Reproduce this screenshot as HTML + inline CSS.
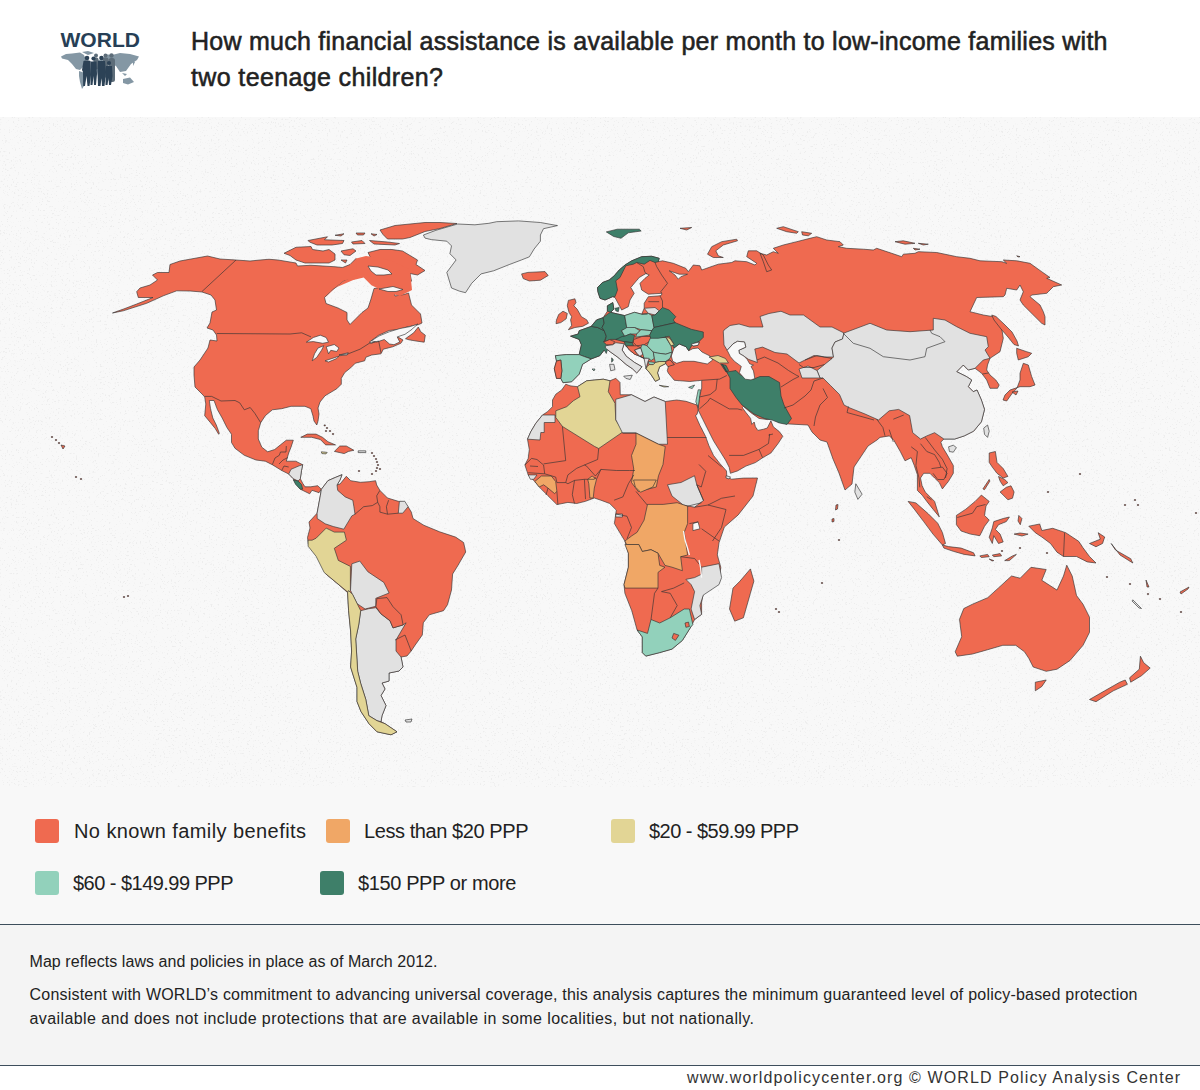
<!DOCTYPE html>
<html><head><meta charset="utf-8">
<style>
html,body{margin:0;padding:0;}
body{width:1200px;height:1090px;overflow:hidden;position:relative;background:#fff;font-family:"Liberation Sans",sans-serif;color:#222;}
#hdr{position:absolute;left:0;top:0;width:1200px;height:117px;background:#fff;}
#mapbg{position:absolute;left:0;top:117px;width:1200px;height:807px;background:#f8f8f8;}
#foot{position:absolute;left:0;top:924px;width:1200px;height:140px;background:#f4f4f4;border-top:1px solid #3d4e5c;border-bottom:1px solid #3d4e5c;}
.title{position:absolute;left:191px;font-weight:bold;font-size:24px;color:#222;white-space:nowrap;}
.leg{position:absolute;font-size:19px;color:#222;white-space:nowrap;}
.sq{position:absolute;width:24px;height:24px;border-radius:3px;}
.note{position:absolute;left:30px;font-size:15px;color:#222;white-space:nowrap;}
#svgmap{position:absolute;left:0;top:0;}
</style></head><body>
<div id="hdr"></div>
<div id="mapbg"></div>
<svg style="position:absolute;left:0;top:117px" width="1200" height="670"><filter id="spk" x="0" y="0" width="100%" height="100%"><feTurbulence type="fractalNoise" baseFrequency="0.55" numOctaves="2" seed="7" result="n"/><feColorMatrix in="n" type="matrix" values="0 0 0 0 0.6  0 0 0 0 0.6  0 0 0 0 0.6  9 0 0 0 -5.6"/></filter><rect width="1200" height="670" filter="url(#spk)" opacity="0.22"/></svg>
<div id="foot"></div>

<svg id="svgmap" width="1200" height="1090" viewBox="0 0 1200 1090">
<g stroke="#333" stroke-width="0.65" stroke-linejoin="round">
<polygon fill="#ef6a50" points="112.5,313 125,308.5 136.7,304 148,299.5 153,297.5 138.3,297.5 136.7,291.7 140,288 150,285 157.5,280 152.5,275 157.5,272.5 169,272.5 170,264.5 180,261 207.5,256 220,259 236,260 250,261 260,260 269,259.25 278,260 296,263 297.5,266 311,265.25 323,266 335,266.75 342.5,267.5 350,264.5 356,258.5 359,263 363.5,266 366.5,269 363.5,272 357.5,278 344,281 330.5,291.5 324.5,297.5 326,303.5 338,308 347,312.5 347,320 350,324.5 356,318.5 362,312.5 368,308 371,299 374,288.5 384.5,287 393.5,290 395,296 404,294.5 408.5,293 411.5,305 420.5,314 422,323 418.3,324.7 406.7,327 399.7,329.3 389.2,330.5 378.7,335.2 369.3,342.2 371.7,343.3 381,338.7 391.5,335.2 398,337 403,340 400.8,343.3 392.7,346.8 383.3,349.2 381,353.8 371.7,355 365.8,357.3 364.7,360.8 355.3,363.2 350.7,367.8 344.8,372.5 341.3,378.3 341.3,384.2 336.7,388.8 325,395.8 320,402 318,408 319,414 318,421 316.8,425 314,421 313,416 310.8,408.7 305,406.3 291,406.3 281.7,408.7 272.3,409.8 265.3,415.7 260.7,422.7 258.3,430.8 258.3,439 261.8,447.2 267.7,451.8 274.7,449.5 280.5,444.8 286.3,440.2 293.3,440.2 291,447.2 288.7,453 286.3,461.2 295.7,461.2 302.7,464.7 301.5,470.5 300.3,478.7 302.7,483.3 305,486.8 310.8,486.8 317.8,485.7 321.3,489.2 319,492.7 312,490.3 309.7,493.8 305,491.5 300.3,489.2 295.7,483.3 293.3,478.7 288.7,474 281.7,470.5 272.3,464.7 265.3,461.2 256,460 244.3,455.3 235,448.3 231.5,442.5 231.5,434.3 226.8,427.3 222.2,418 217.5,409.8 214,400.5 209.3,400.5 210.5,408.7 212.8,418 216.3,425 219.3,433.2 218.7,434.3 215.2,428.5 210.5,422.7 204.7,415.7 205.8,404 204.7,397 203,395 195,387 194,375 194,367 200,360 208,348 210,340 217,341 216.5,335 213,330 207,328 210,323 212,312 216.5,310 215,300 211,295 202,292 190,291 176.7,290.8 163.3,295.8 146.7,303.3 123.3,310.8"/>
<polygon fill="#f8f8f8" points="306.3,342.2 313.3,337.5 320.3,335.2 326.2,337.5 328.5,342.2 322.7,343.3 313.3,341.6"/>
<polygon fill="#f8f8f8" points="312.2,360.8 314.5,353.8 318,348 323.8,345.7 321.5,350.3 316.8,357.3"/>
<polygon fill="#f8f8f8" points="326.2,346.8 334.3,344.5 339,348 336.7,351.5 330.8,350.3 328.5,353.8"/>
<polygon fill="#f8f8f8" points="325,360.8 332,358.5 339,356.2 336.7,358.5 328.5,362"/>
<polygon fill="#f8f8f8" points="339,355 348.3,352.7 347.2,355 340.2,355.6"/>
<polygon fill="#f8f8f8" points="371.4,340.8 379,336 389.5,331.7 400,328.5 410.2,326.6 417.9,324 411,330 405,334.3 397.2,336.9 399.8,342 394,344.7 389.5,344 384.3,339.5 376.6,342.1"/>
<polygon fill="#ef6a50" points="405.5,338.7 413.7,332.8 418.3,327 420.7,331.7 425.3,335.2 424.2,342.2 416,341 409,339.8"/>
<polygon fill="#ef6a50" points="380,230 395,225.5 410,224 425,222.5 440,222.5 457,223.5 440,228.5 425,231.5 410,237.5 402.5,239 387.5,239 383,234.5"/>
<polygon fill="#ef6a50" points="369.5,240.5 387.5,242 399.5,243.5 395,245 374,244"/>
<polygon fill="#ef6a50" points="351.5,242 362,240.5 365,243.5 353,244"/>
<polygon fill="#ef6a50" points="356,233 365,233 363.5,235 357.5,235"/>
<polygon fill="#ef6a50" points="371,233.75 377,234.5 374,236"/>
<polygon fill="#ef6a50" points="335,235.25 344,233.75 341,236"/>
<polygon fill="#ef6a50" points="308,240.5 327.5,236.75 324.5,239.75 344,240.5 342.5,243.5 332,245 317,245 309.5,242"/>
<polygon fill="#ef6a50" points="284,253.25 296,247.25 311,246.5 312.5,249.5 323,251 329,249.5 335,254 335,260 329,263 320,263 305,263 296,260 290,255.5"/>
<polygon fill="#ef6a50" points="341,251 353,248.75 356,251 350,255.5 344,254.75"/>
<polygon fill="#ef6a50" points="341,260 347,260 345.5,263"/>
<polygon fill="#ef6a50" points="368,252.5 380,249.5 392,249.5 402.5,251 410,255.5 417.5,260 416,264.5 425,270.5 417.5,275 410,273.5 411.5,281 407,285.5 401,281 392,281 383,278 381.5,275 389,272 392,266 386,261.5 377,260 371,258.5"/>
<polygon fill="#ef6a50" stroke="none" points="356,258.5 366,256 380,258 395,262 410,270 412,290 400,296 385,292 376.6,287.8 371.4,285.2 363.7,277.5 353.3,280 335.2,287.8 325,298 330.5,291.5 344,281 357,275"/>
<polygon fill="#f8f8f8" points="368,266 378,267 388,270 392,274 384,275 376,275 371,271"/>
<polygon fill="#f8f8f8" points="379,289 393,286.5 403,289.5 396,291.5 388,291.5"/>
<polygon fill="#ef6a50" points="300.8,437.3 307.3,434.1 316,434.1 322.5,437.3 327.9,441.7 335.5,444.9 325.7,444.9 320.3,439.5 311.7,437.3"/>
<polygon fill="#ef6a50" points="334.4,451.4 339.8,446 346.3,446 353.9,450.3 348.5,451.4 344.2,453.6"/>
<polygon fill="#e2d595" points="321.3,451.8 327.2,452.4 326,453.9 321.9,453.6"/>
<polygon fill="#e1e1e1" points="358.2,450.8 365.8,450.8 365.8,452.6 358.2,452.6"/>
<polygon fill="#e1e1e1" points="288.7,474 291,469.3 299.2,465.8 302.7,464.7 301.5,470.5 300.3,478.7 298,481 293.3,478.7"/>
<polygon fill="#3e7f69" points="293.3,479.8 298,481 301.5,484.5 302.7,489.2 300.3,489.2 295.7,484.5"/>
<polygon fill="#e1e1e1" points="423.4,235 435.9,230.3 457.7,224 474.9,224.8 488.9,223.3 496.7,221.7 518.5,220.9 540.4,222.5 557.5,225.6 543.5,228.7 540.4,235 540.4,241.2 534.1,249 529.4,256.8 521.6,259.9 509.2,264.6 493.6,270.8 481.1,273.9 471.7,283.3 465.5,292.7 459.3,291.1 451.5,288 446.8,272.4 456.1,259.9 449.9,253.7 451.5,245.9 446.8,241.2 431.2,239.6 425,238.1"/>
<polygon fill="#ef6a50" points="521.6,273.9 527.9,272.4 545,271.6 548.2,275.5 540.4,280.2 529.4,281 523.2,278.6"/>
<polygon fill="#ef6a50" points="324.09999999999997,424.9 325.3,424.9 325.3,425.9 324.09999999999997,425.9"/>
<polygon fill="#ef6a50" points="326.4,427.5 327.6,427.5 327.6,428.5 326.4,428.5"/>
<polygon fill="#ef6a50" points="329.4,430.5 330.6,430.5 330.6,431.5 329.4,431.5"/>
<polygon fill="#ef6a50" points="332.4,433.5 333.6,433.5 333.6,434.5 332.4,434.5"/>
<polygon fill="#ef6a50" points="325.4,430.5 326.6,430.5 326.6,431.5 325.4,431.5"/>
<polygon fill="#ef6a50" points="371.4,452.5 372.6,452.5 372.6,453.5 371.4,453.5"/>
<polygon fill="#ef6a50" points="373.4,455.5 374.6,455.5 374.6,456.5 373.4,456.5"/>
<polygon fill="#ef6a50" points="375.4,458.5 376.6,458.5 376.6,459.5 375.4,459.5"/>
<polygon fill="#ef6a50" points="376.4,461.5 377.6,461.5 377.6,462.5 376.4,462.5"/>
<polygon fill="#ef6a50" points="377.4,464.5 378.6,464.5 378.6,465.5 377.4,465.5"/>
<polygon fill="#ef6a50" points="376.4,467.5 377.6,467.5 377.6,468.5 376.4,468.5"/>
<polygon fill="#ef6a50" points="375.4,470.5 376.6,470.5 376.6,471.5 375.4,471.5"/>
<polygon fill="#ef6a50" points="379.4,468.5 380.6,468.5 380.6,469.5 379.4,469.5"/>
<polygon fill="#ef6a50" points="371.4,473.5 372.6,473.5 372.6,474.5 371.4,474.5"/>
<polygon fill="#ef6a50" points="358.4,470.5 359.6,470.5 359.6,471.5 358.4,471.5"/>
<polygon fill="#ef6a50" points="51.4,436.5 52.6,436.5 52.6,437.5 51.4,437.5"/>
<polygon fill="#ef6a50" points="55.4,439.5 56.6,439.5 56.6,440.5 55.4,440.5"/>
<polygon fill="#ef6a50" points="58.4,442.5 59.6,442.5 59.6,443.5 58.4,443.5"/>
<polygon fill="#ef6a50" points="75.4,476.5 76.6,476.5 76.6,477.5 75.4,477.5"/>
<polygon fill="#ef6a50" points="80.4,478.5 81.6,478.5 81.6,479.5 80.4,479.5"/>
<polygon fill="#ef6a50" points="123.4,596.5 124.6,596.5 124.6,597.5 123.4,597.5"/>
<polygon fill="#ef6a50" points="127.4,595.5 128.6,595.5 128.6,596.5 127.4,596.5"/>
<polygon fill="#ef6a50" points="549.4,422.5 550.6,422.5 550.6,423.5 549.4,423.5"/>
<polygon fill="#ef6a50" points="546.4,424.5 547.6,424.5 547.6,425.5 546.4,425.5"/>
<polygon fill="#ef6a50" points="542.4,424.5 543.6,424.5 543.6,425.5 542.4,425.5"/>
<polygon fill="#ef6a50" points="538.4,423.5 539.6,423.5 539.6,424.5 538.4,424.5"/>
<polygon fill="#ef6a50" points="539.4,426.5 540.6,426.5 540.6,427.5 539.4,427.5"/>
<polygon fill="#ef6a50" points="775.4,608.5 776.6,608.5 776.6,609.5 775.4,609.5"/>
<polygon fill="#ef6a50" points="778.4,611.5 779.6,611.5 779.6,612.5 778.4,612.5"/>
<polygon fill="#ef6a50" points="821.4,582.5 822.6,582.5 822.6,583.5 821.4,583.5"/>
<polygon fill="#ef6a50" points="838.4,539.5 839.6,539.5 839.6,540.5 838.4,540.5"/>
<polygon fill="#ef6a50" points="1106.4,576.5 1107.6,576.5 1107.6,577.5 1106.4,577.5"/>
<polygon fill="#ef6a50" points="1129.4,583.5 1130.6,583.5 1130.6,584.5 1129.4,584.5"/>
<polygon fill="#ef6a50" points="1147.4,593.5 1148.6,593.5 1148.6,594.5 1147.4,594.5"/>
<polygon fill="#ef6a50" points="1159.4,598.5 1160.6,598.5 1160.6,599.5 1159.4,599.5"/>
<polygon fill="#ef6a50" points="1180.4,611.5 1181.6,611.5 1181.6,612.5 1180.4,612.5"/>
<polygon fill="#ef6a50" points="1195.4,512.5 1196.6,512.5 1196.6,513.5 1195.4,513.5"/>
<polygon fill="#ef6a50" points="1046.4,552.5 1047.6,552.5 1047.6,553.5 1046.4,553.5"/>
<polygon fill="#ef6a50" points="1001.4,550.5 1002.6,550.5 1002.6,551.5 1001.4,551.5"/>
<polygon fill="#ef6a50" points="1019.4,547.5 1020.6,547.5 1020.6,548.5 1019.4,548.5"/>
<polygon fill="#ef6a50" points="1124.4,504.5 1125.6,504.5 1125.6,505.5 1124.4,505.5"/>
<polygon fill="#ef6a50" points="1134.4,499.5 1135.6,499.5 1135.6,500.5 1134.4,500.5"/>
<polygon fill="#ef6a50" points="1137.4,504.5 1138.6,504.5 1138.6,505.5 1137.4,505.5"/>
<polygon fill="#ef6a50" points="1047.4,491.5 1048.6,491.5 1048.6,492.5 1047.4,492.5"/>
<polygon fill="#ef6a50" points="1079.4,473.5 1080.6,473.5 1080.6,474.5 1079.4,474.5"/>
<polygon fill="#ef6a50" points="836,505 838,504.5 837.5,509 835.5,510"/>
<polygon fill="#ef6a50" points="832,519 834,518.5 834,521.5 832,522"/>
<polygon fill="#ef6a50" points="61,445 65,446 63,449"/>
<polygon fill="#ef6a50" points="317.1,513.2 320.3,495.8 321.4,489.3 327.9,480.7 335.5,477.4 342,474.7 340,480 337,485 340,484 346.3,476.3 350.7,480.7 360.4,482.3 369.1,481.7 375.6,480.7 376.7,485 379.9,490.4 387.5,498 398.3,501.3 403.7,502.3 408.1,506.7 411.3,512.1 413,518.5 423.7,525.2 439.6,531.8 455.6,537.1 463.6,542.5 465.7,552 457.6,566 452.6,574 451.5,590 447.5,604.7 443.5,610.7 429.3,614.8 423.3,622.8 422.3,635 415.2,645 411.2,651 407,656 401,657 403,667 399,671 389,673 389,681 382,683 385,689 381,695.5 386,705.6 382,715.7 381,721.7 385,723.7 397,731.8 391,734.8 377,731.8 369,723.7 361,711.6 357,701.5 357,687.4 350.6,667 351.6,651 350.6,631 348.6,610.7 347.6,592.6 338.5,584.5 326.4,574.4 316.3,554.2 308.3,544 307.5,537.5 310,528 309,522"/>
<polygon fill="#e1e1e1" points="317.1,513.2 320.3,495.8 321.4,489.3 327.9,480.7 335.5,477.4 342,474.7 340,480 337,485 337.7,490.4 345.2,496.9 352.8,500.2 353.9,506.7 355,514.2 351.8,515.9 343.8,529.2 333.2,526.5 325.2,523.8 317.2,518.5"/>
<polygon fill="#e2d595" points="308.1,540.2 312.1,540.2 316.1,538.2 326.2,528.1 334.3,532.1 344.4,532.1 346.4,540.2 334.3,548.3 338.3,560.4 350.4,566.4 350.4,590.6 348.4,592.6 336.3,582.6 324.2,572.5 316.1,556.3 308.1,546.2"/>
<polygon fill="#e1e1e1" points="351.8,563.8 359.8,561.1 367.8,571.7 383.8,582.4 389.1,593 375.8,598.3 375.8,606.3 365.1,609 357.1,603.7 350.5,590.4"/>
<polygon fill="#e1e1e1" points="360.7,610.7 368.8,608.7 375.9,607.7 380.9,613.8 390,620.8 393,627.9 403.1,624.9 406.1,622.8 396,640 396,651 401,657 403,667 399,671 389,673 389,681 382,683 385,689 381,695.5 386,705.6 382,715.7 381,721.7 377,720.7 368.8,715.7 365.8,699.5 360.7,683.4 357.7,671.3 356.7,655 355.7,639 358.7,625"/>
<polygon fill="#ef6a50" points="376.9,598.6 387,597.6 393,606.7 401.1,614.8 403.1,624.9 393,627.9 390,620.8 380.9,613.8 375.9,606.7"/>
<polygon fill="#e2d595" points="348.6,590.5 352.7,594.6 360.7,610.7 358.7,625 355.7,639 356.7,655 357.7,671.3 360.7,683.4 365.8,699.5 368.8,715.7 377,720.7 385,723.7 397,731.8 391,734.8 377,731.8 369,723.7 361,711.6 357,701.5 357,687.4 350.6,667 351.6,651 350.6,631 348.6,610.7 347.6,592.6"/>
<polygon fill="#e1e1e1" points="399.4,501.3 404.8,501.3 408.1,506.7 402.7,513.2 398.3,513.2"/>
<polygon fill="#e1e1e1" points="405,720 412,719 411,722 406,722"/>
<polygon fill="#ef6a50" points="556.5,378.4 554.3,368.7 556.5,361.1 555.4,355.7 566.2,354.6 579.2,354.6 581.4,344.8 579.2,339.4 570.6,336.2 578.2,334 579.2,330.7 591.2,326.4 596.6,319.9 603.1,317.7 607.4,311.2 607.4,305.8 612.8,302.6 613.9,309.1 610.7,312.3 615,313.4 624.7,315.6 634.5,312.3 641.7,314.2 644.2,308.3 644.2,303.3 648.3,296.7 660,295.8 661.7,295 661.7,293.3 648.3,294.2 641.7,290 640,283.3 645,278.3 649.2,275 646,273.5 639.2,277.5 630.8,287.5 634.2,293.3 630,300 628.3,306.7 621.7,310 615,297.5 612.5,296.7 605,300 600,298.3 597.9,291.7 597.5,287.5 602.5,282.5 609.2,280 614.2,275.8 619.2,270 625,265 631.7,260.8 641.7,256.7 651.7,256.25 659.2,258.3 658.3,261.7 662.5,260.8 673.3,263.3 685.8,268.3 688.3,271.7 693.3,265 700,265.8 701.7,270 718.3,264.2 731.7,262.5 735,260.8 746.7,261.7 755,265 756.7,263.3 746.7,256.7 748.3,250.8 756.7,250.8 763.3,255 768.3,265 771.7,270 766.7,271.7 763.3,261.7 760,253.3 766.7,255 773.3,251.7 778.3,253.3 773.3,248.3 783.3,245 796.7,241.7 810,238.3 816.7,236.7 826.7,240 840,241.7 843.3,245 838.3,246.7 846.7,248.3 863.3,249.2 873.3,250 876.7,248.3 891.7,253.3 901.7,256.7 903.3,254.2 915,253.3 918.3,251.7 936.7,252.5 956.7,256.7 970,258.3 980,260.8 1001.7,261.7 1006.7,263.3 1003.3,260 1016.7,260.8 1030,263.3 1041.7,271.7 1050,277.5 1046.7,278.3 1061.7,285 1053.3,286.7 1048.3,291.7 1046.7,293.3 1031.7,295 1030,296.7 1040,305 1043.3,311.7 1045,316.7 1045,325 1041.7,323.3 1023.3,305 1020,300 1023.3,291.7 1020,285 1016.7,290 1006.7,288.3 1005,295 1003.3,296.7 976.7,297.5 970,311.7 983.3,315 993.3,316.7 1001.7,328.3 1003.3,338.3 1000,351.7 990,358.3 987.5,365 986.7,370 990,375 995.8,380 999.2,385 997.5,388.3 990,388.3 986.7,380 981.7,373.3 975,368.3 968.3,370 963.3,365 956.7,371.7 966.7,376.7 971.7,380 968.3,386.7 973.3,391.7 977,390 981.4,400 984.5,409.4 981.4,421.8 973.6,431.2 964.2,435.9 954.8,439 943.9,439 940.8,442.1 942.4,446.8 947.1,454.6 953.3,465.5 953.3,473.3 948.6,481.1 942.4,488.9 939.3,482.6 934.6,478 929.9,473.3 923.7,473.3 920.5,478 922.1,485.8 925.2,492 929.9,496.7 934.6,501.4 939.3,516.9 933,509.2 926.8,501.4 922.1,495.1 917.4,490.4 917.4,474.8 914.3,465.5 911.2,457.7 905,460.8 900.3,451.5 894,440.5 889.4,435.9 880,437.4 877,440 868,446 858,461 854,467 852,484 845,490 839,473 833,459 827,442 820,440 812,432 808,425 789,424 778.1,422 772.1,418.4 767.3,419.6 759,418.4 750.6,412.5 743.5,406.5 742.3,407.7 745.9,412.5 750.6,418.4 751.8,424.4 754.2,422 755.4,426.8 757.8,430.4 763.7,429.2 767.3,428 770.9,420.8 773.3,426.8 779.3,431.6 782.8,436.3 778.1,443.5 770.9,453 762.6,457.8 755.4,462.6 745.9,466.1 737.5,470.9 730.4,473.3 729.2,467.3 725.6,460.2 719.6,450.6 713.7,441.1 708.9,431.6 702.9,419.6 698.2,410.1 698.2,407.7 699.4,397 701.7,388 701.7,380.3 689.8,381.5 674.3,380.3 668.3,373.1 667.3,370.7 668.7,365.3 674.2,364.6 670,359.9 665.8,363.5 659.6,366.7 657.5,372.9 659.6,379.2 655.4,381.3 651.3,375 648.1,370.8 646,368.8 647.1,364.6 644,358.3 639.8,356.3 634.6,354.2 629.4,350 626.3,345.8 624.2,343.8 622.1,350 626.3,356.3 634.6,362.5 641.9,366.7 638.8,370.8 636.7,372.9 632.5,368.8 626.3,364.6 617.9,357.3 610.6,352.1 605.4,348 604.2,350 599.8,355.7 591.2,358.9 582.5,364.3 579.2,374.1 571.7,381.7 563,382.7 560.8,378.4"/>
<polygon fill="#f8f8f8" points="671.3,356 674,348 679.3,344 686,346.7 688.7,350.7 692.7,348.7 698,348 702,352 710,356 712.7,360 707.3,364 694,361.3 683.3,361.3 676.7,363.3 672.7,361.3"/>
<polygon fill="#f8f8f8" points="691.3,344 699.3,342 698,345.3 693,346"/>
<polygon fill="#f8f8f8" points="669.2,270.8 679.2,274.2 687.5,274.2 680.8,276.7 678.3,279.2 675,275"/>
<polygon fill="#e1e1e1" points="623.7,376.2 632.3,375.2 630.2,379.5 625.8,378.4"/>
<polygon fill="#e1e1e1" points="609.6,364.3 613.9,364.3 615,369.7 610.7,370.8"/>
<polygon fill="#3e7f69" points="611.7,357.8 613.4,360 611.7,362.2"/>
<polygon fill="#92d1bb" points="592,369 595,369 594,371"/>
<polygon fill="#ef6a50" points="568.4,300.4 574.9,298.8 576,302.6 573.8,305.8 577.1,309.1 581.4,316.7 586.8,319.9 588.5,323.2 582.5,326.4 574.9,327.5 568.4,329.7 571.7,325.3 570.6,319.9 571.7,316.7 569,312.3 567.3,305.8"/>
<polygon fill="#ef6a50" points="556.5,319.9 558.7,314.5 563,311.2 567.3,313.4 566.2,318.8 560.8,322.6 556,323.7"/>
<polygon fill="#3e7f69" points="615,308.3 619.2,307.5 618.3,311.7 615.8,310.8"/>
<polygon fill="#3e7f69" points="606.3,231.9 617.3,229.2 639.3,229.2 641.2,231 628.3,232.8 621,238.3 613.7,236.5"/>
<polygon fill="#ef6a50" points="707.5,254.2 711.7,246.7 721.7,241.7 736.7,239.2 737.5,240.8 723.3,245 715.8,250.8 718.3,255.8 723.3,257.5 713.3,257.5"/>
<polygon fill="#ef6a50" points="680,228.3 691.7,227.5 686.7,230"/>
<polygon fill="#ef6a50" points="776.7,228.3 783.3,226.7 798.3,231.7 796.7,233.3 786.7,231.7"/>
<polygon fill="#ef6a50" points="801.7,231.7 811.7,233.3 808.3,235.8 802.5,235"/>
<polygon fill="#92d1bb" points="688.6,387.4 694.6,385 692.2,388.6"/>
<polygon fill="#e2d595" points="659.3,385.3 668.7,386.7 664,387"/>
<polygon fill="#3e7f69" points="597.5,287.5 602.5,282.5 609.2,280 614.2,275.8 619.2,270 625,265 631.7,260.8 641.7,256.7 651.7,256.25 659.2,258.3 658.3,261.7 655,262.5 650,260.4 644.2,264.2 636.7,262.5 633.3,264.2 625.8,265.8 620,277.5 615.8,280.8 617.5,290 615,296.7 612.5,296.7 605,300 600,298.3 597.9,291.7"/>
<polygon fill="#3e7f69" points="607.4,305.8 612.8,302.6 613.9,309.1 610.7,312.3 607.4,311.2"/>
<polygon fill="#3e7f69" points="570.6,336.2 578.2,334 579.2,330.7 591.2,326.4 597.7,327.5 604.2,330.7 606.3,336.2 604.2,341.6 608.5,345.9 606.3,353.5 604.2,350 599.8,355.7 591.2,358.9 584.7,356.7 579.2,354.6 581.4,344.8 579.2,339.4"/>
<polygon fill="#3e7f69" points="591.2,326.4 596.6,319.9 603.1,317.7 604.2,323.2 602,327.5 604.2,330.7 597.7,327.5"/>
<polygon fill="#3e7f69" points="603.1,317.7 608.5,313.4 610.7,312.3 615,313.4 624.7,315.6 625.8,322.1 626.9,328.6 621.5,330.7 624.7,336.2 620.4,339.4 610.7,339.4 605,341.5 606.3,336.2 604.2,330.7 602,327.5 604.2,323.2"/>
<polygon fill="#92d1bb" points="555.4,355.7 566.2,354.6 579.2,354.6 584.7,356.7 591.2,358.9 582.5,364.3 579.2,374.1 571.7,381.7 563,382.7 560.8,378.4 561.9,370.8 560.8,360 556.5,361.1"/>
<polygon fill="#92d1bb" points="624.7,315.6 634.5,312.3 641.7,314.2 648.3,313.3 651.8,315.6 654,327.5 651.8,330.7 641,329.7 634.5,327.5 626.9,328.6 625.8,322.1"/>
<polygon fill="#92d1bb" points="621.5,330.7 626.9,327.5 634.5,327.5 639.9,330.7 636.7,334 630.2,334 624.7,336.2"/>
<polygon fill="#92d1bb" points="636.7,334 641,329.7 651.8,330.7 649.7,335.1 642.1,336.2 635.6,337.2"/>
<polygon fill="#3e7f69" points="615.8,339.6 622.1,336.5 624.7,336.2 630.2,334 634.6,335.4 633.5,339.6 632.5,342.7 624.2,341.7"/>
<polygon fill="#3e7f69" points="624.2,341.7 632.5,342.7 633.5,345.8 626.3,346.9"/>
<polygon fill="#ef6a50" points="603.3,341.7 605,341.5 609.6,339.6 614.8,341.7 612.7,344.8 606.5,344.8"/>
<polygon fill="#ef6a50" points="633.5,339.6 641.9,336.5 651.3,336.5 649.2,341.7 644,344.8 636.7,345.8 633.5,342.7"/>
<polygon fill="#e1e1e1" points="605.4,345.8 612.7,344.8 615.8,342.7 624.2,343.8 622.1,350 626.3,356.3 634.6,362.5 641.9,366.7 638.8,370.8 636.7,372.9 632.5,368.8 626.3,364.6 617.9,357.3 610.6,352.1 605.4,348"/>
<polygon fill="#ef6a50" points="626.3,345.8 633.5,345.8 636.7,345.8 640.8,347.9 634.6,350 636.7,353.1 639.8,356.3 634.6,354.2 629.4,350"/>
<polygon fill="#e1e1e1" points="634.6,350 640.8,347.9 642.9,354.2 639.8,356.3 636.7,353.1"/>
<polygon fill="#92d1bb" points="641.9,344.8 644,344.8 647.1,345.8 653.3,352.1 654.4,358.3 651.3,360.4 647.1,358.3 644,358.3 642.9,354.2 640.8,347.9"/>
<polygon fill="#e1e1e1" points="639.8,356.3 644,358.3 649.2,358.3 648.1,361.5 647.1,364.6 646,368.8 644,358.3"/>
<polygon fill="#92d1bb" points="648.1,361.5 655.4,362.5 653.3,364.6 649.2,364.6"/>
<polygon fill="#92d1bb" points="649.2,340.6 651.3,336.5 657.5,337.5 665.8,337.5 671,345.8 672.1,352.1 665.8,354.2 657.5,353.1 653.3,352.1 647.1,345.8"/>
<polygon fill="#92d1bb" points="653.3,352.1 657.5,353.1 665.8,354.2 672.1,352.1 670,358.3 665.8,361.5 659.6,361.5 655.4,362.5 654.4,358.3"/>
<polygon fill="#e2d595" points="647.1,366.7 649.2,364.6 653.3,364.6 655.4,362.5 659.6,361.5 665.8,361.5 665.8,363.5 659.6,366.7 657.5,372.9 659.6,379.2 655.4,381.3 651.3,375 648.1,370.8 646,368.8"/>
<polygon fill="#ef6a50" points="665.8,361.5 670,359.9 674.2,364.6 667.9,366.7 665.8,363.5"/>
<polygon fill="#ef6a50" points="556.5,361.1 560.8,360 561.9,370.8 560.8,378.4 556.5,378.4 554.3,368.7"/>
<polygon fill="#e1e1e1" points="644.2,308.3 655,307.5 659.2,310.8 655,315 648.3,313.3"/>
<polygon fill="#3e7f69" points="651.8,315.6 655,315 659.2,310.8 662.5,307.5 669.2,310 675.8,316.7 673.3,320 675.3,322.7 654,327.5"/>
<polygon fill="#3e7f69" points="654,327.5 675.3,322.7 691.3,329.3 703.3,332 703.3,337.3 699.3,341.3 692.7,344 688.7,350.7 686,346.7 679.3,344 674,348 671.3,344 673.5,343.8 669.2,336.2 664.8,337.2 658.3,338.3 650.7,338.3 649.7,335.1 651.8,330.7"/>
<polygon fill="#e2d595" points="665.8,336.5 670,338.5 674.2,344.8 671,345.8"/>
<polygon fill="#f8f8f8" points="691.3,344 699.3,342 698,345.3 693,346"/>
<polygon fill="#e2d595" points="709,357 718,355.5 725.5,358.5 728.5,363 719.5,363"/>
<polygon fill="#3e7f69" points="720.7,364 726,365.3 728.7,370.7 726,372 723.3,368"/>
<polygon fill="#92d1bb" points="698.2,389.8 700.5,389.8 698.2,407.7 695.8,401.7"/>
<polygon fill="#e1e1e1" points="724,330 730,325.5 739,324 749.5,327 763,327 760,316.5 769,313.5 781,311.25 790,315 803.5,315 820,327 832,327 844,333 842.5,339 835,342 832,348 833.5,357 824.5,357 814,355.5 805,360 799,363 787,354 775,352.5 762.5,347.1 754.8,349 757.4,362.5 748.4,359.3 743.9,356.1 739.4,353.5 738.8,350.3 745.8,347.1 744.5,342 737.5,341.3 733,343.9 727.2,350.3 724,345 723.3,331.7"/>
<polygon fill="#e1e1e1" points="844,333 870,323.3 886.7,330 910,331.7 933.3,330 933.3,318.3 945,320 956.7,326.7 970,333.3 986.7,336.7 988.3,346.7 985,350 990,358.3 983.3,360 975,368.3 968.3,370 963.3,365 956.7,371.7 966.7,376.7 971.7,380 968.3,386.7 973.3,391.7 977,390 981.4,400 984.5,409.4 981.4,421.8 973.6,431.2 964.2,435.9 954.8,439 943.9,439 934.6,432.7 926.8,435.9 920.5,439 912.7,432.7 909.6,415.6 898.7,409.4 889.2,410.8 878.5,420 865,414 850,408 844,405 839.5,394.5 830.5,385.5 823,378 820,378 817,370.5 824.5,364.5 832,358.5 833.5,357 832,348 835,342 842.5,339"/>
<polygon fill="#3e7f69" points="722.5,364.5 727,372 736,370.5 740.5,375 752.5,379.5 760,376.5 769,376.5 779.5,382.5 781,396 784,405 791.5,418.5 787,424.5 779.5,423 772,420 764.5,418.5 754,414 742,405 736,397.5 730,388.5 730,378"/>
<polygon fill="#f8f8f8" points="727.2,350.3 733,343.9 737.5,341.3 744.5,342 745.8,347.1 738.8,350.3 739.4,353.5 743.9,356.1 747.1,359.3 749.7,363.8 753.5,365.1 751,366.4 753.5,370.9 754.8,378.6 751,379.9 745.2,379.2 739.4,372.8 741.3,366.4 734.3,361.2 730.4,356.7"/>
<polygon fill="#e1e1e1" points="799,369 808,366 817,370.5 820,378 808,378 802,378"/>
<polygon fill="#e1e1e1" points="855.8,483.75 862.1,494.2 857.9,499.4 854.8,492.1"/>
<polygon fill="#e1e1e1" points="983.7,428.1 987.6,425 989.2,431.2 987.6,437.4 984.5,434.3"/>
<polygon fill="#e1e1e1" points="948.6,446.8 953.3,445.2 956.4,447.6 953.3,452.2 949.4,451.5"/>
<polygon fill="#ef6a50" points="1023.3,363.3 1028.3,365 1031.7,376.7 1035,385 1030,386.7 1020,386.7 1010,390 1005,395 1003,400 1006.7,401 1011.7,394 1017,388 1020,380 1020,373.3"/>
<polygon fill="#ef6a50" points="1012,392 1018,391 1016,395"/>
<polygon fill="#ef6a50" points="1016.7,348.3 1026.7,351.7 1031.7,353.3 1028.3,356.7 1018.3,360 1016.7,353.3"/>
<polygon fill="#ef6a50" points="991.7,315 996,316.5 1004,324 1012,332 1017,341 1018.5,346 1014,344.5 1008,337 1001,329 994,320"/>
<polygon fill="#ef6a50" points="895,241.7 903.3,240.8 915,243.3 905,244.2"/>
<polygon fill="#ef6a50" points="918.3,243.3 928.3,244.2 923.3,245"/>
<polygon fill="#ef6a50" points="913.3,248.3 920,249.2 915,250"/>
<polygon fill="#ef6a50" points="1016.7,255.8 1020,256.7 1018,257"/>
<polygon fill="#ef6a50" points="908.1,501.4 915.9,502.9 928.3,513.8 937.7,523.2 942.4,532.5 945.5,543.5 942.4,545 933,534.1 923.7,521.6 914.3,509.2"/>
<polygon fill="#ef6a50" points="942.4,545 948.6,546.6 961.1,548.1 973.6,552.8 975.1,555.9 964.2,554.4 953.3,551.3 943.9,548.1"/>
<polygon fill="#ef6a50" points="956.4,515.4 965.8,509.2 975.1,501.4 981.4,495.1 989.2,501.4 986,506 984.5,515.4 989.2,520.1 984.5,526.3 979.8,535.7 970.4,534.1 961.1,531 956.4,524.7"/>
<polygon fill="#ef6a50" points="993.8,521.6 1003.2,518.5 1009.4,517 1006.3,521.6 998.5,524.7 995.4,529.4 1000.1,534.1 1003.2,541.9 998.5,543.5 993.8,535.7 992.3,543.5 989.2,537.2 992.3,527.9"/>
<polygon fill="#ef6a50" points="989.2,453 995.4,451.5 997,462.4 1003.2,468.6 1007.9,476.4 1003.2,478 997,473.3 992.3,467.1 989.2,462.4"/>
<polygon fill="#ef6a50" points="998.5,476.4 1004.7,479.5 1007.9,482.6 1003.2,485.8 1000.1,481.1"/>
<polygon fill="#ef6a50" points="1000.1,492 1006.3,487.3 1011,485.8 1014.1,492 1012.5,498.2 1007.9,499.8 1003.2,495.1"/>
<polygon fill="#ef6a50" points="982.9,488.9 989.2,479.5 989.9,481.1 984.5,489.7"/>
<polygon fill="#ef6a50" points="979.8,555.9 987.6,554.4 989.2,556.7 981.4,557.5"/>
<polygon fill="#ef6a50" points="992.3,555.1 1000.1,553.6 1001.6,555.9 993.8,556.7"/>
<polygon fill="#ef6a50" points="989.2,559 993.8,560.6 992,561"/>
<polygon fill="#ef6a50" points="1004.7,560.6 1012.5,555.9 1016.4,554.4 1009.4,560.6"/>
<polygon fill="#ef6a50" points="1018.8,515.4 1021.9,518.5 1020.3,524.7 1018,521"/>
<polygon fill="#ef6a50" points="1014.1,534.1 1020,533 1028.1,534.1 1022,536"/>
<polygon fill="#ef6a50" points="1028.8,526.2 1039.7,524 1041.8,530.5 1052.7,528.3 1065.7,532.7 1078.7,541.3 1083,547.8 1089.5,556.5 1096,563 1087.3,561.9 1076.5,556.5 1063.5,556.5 1057,552.2 1050.5,543.5 1041.8,537 1035.3,532.7"/>
<polygon fill="#ef6a50" points="1089.5,543.5 1100.3,539.2 1098.2,532.7 1104.7,537 1102.5,543.5 1096,546.75"/>
<polygon fill="#ef6a50" points="1111.2,543.5 1115.5,550 1130.7,558.7 1132.8,563 1120,555"/>
<polygon fill="#ef6a50" points="963.8,608.5 972.5,604.2 987.7,597.7 998.5,587.9 1011.5,576 1020.2,578.2 1031,567.3 1046.2,569.5 1041.8,580.3 1057,590.1 1063.5,576 1066.75,565.2 1072.2,576 1076.5,595.5 1083,604.2 1089.5,617.2 1089.5,632.3 1083,645.3 1070,660.5 1057,669.2 1046.2,671.3 1033.2,667 1028.8,658.3 1024.5,651.8 1015.8,645.3 1002.8,645.3 987.7,649.7 972.5,654 957.3,656.2 955.2,651.8 961.7,636.7 959.5,619.3"/>
<polygon fill="#ef6a50" points="1035.3,682.2 1046.2,680 1041.8,686.5 1035.3,690.8"/>
<polygon fill="#ef6a50" points="1140.4,656.2 1143.7,662.7 1150.2,668.1 1141.5,675.7 1130.7,682.2 1129.6,677.8 1139.3,669.2"/>
<polygon fill="#ef6a50" points="1125.2,680 1127.4,684.3 1113.3,690.8 1096,701.7 1089.5,699.5 1104.7,690.8 1119.8,682.2"/>
<polygon fill="#ef6a50" points="1146,580 1149,587 1147,587"/>
<polygon fill="#ef6a50" points="1180,592 1189,587 1188,589 1181,594"/>
<polygon fill="#e1e1e1" points="1132.8,599.8 1141.5,608.5 1139,608 1132,601"/>
<polygon fill="#ef6a50" points="552.5,400 555.8,394.2 561.7,390 565.8,384.2 570,385.8 577.5,386.7 586.7,380.8 603.3,379.2 610,380.8 615.8,378.3 620,382.5 620.25,394.75 631.5,394.75 645,401.5 654,397 665.25,401.5 676.7,400 686,401.3 697,405 698.2,410 697,414.5 695.5,415.5 700,425.6 705.5,436.3 709,445.9 713.5,455.4 720,463.7 726.5,471 726.8,476.9 731.6,479.2 743.5,478.1 757.5,478 753,496 738.2,514.9 724.3,527.1 719,542.8 717.3,555 720.8,567.2 719,582.9 703.3,593.3 701.6,602.1 701.6,614.3 694.6,619.5 691.1,626.5 682.4,640.4 672,649.1 659.7,652.6 645.8,656.1 642.3,652.6 642.3,636.9 637.1,630 631.8,610.8 624.9,593.3 624,584.6 628.4,567.2 628.4,553.2 624.9,541 619.6,532.3 614.4,523.6 616.3,510.1 609.7,503.5 600.9,500.2 594.3,498 585.5,501.3 576.7,503.5 567.9,502.4 556.9,504.6 548,495.8 540.3,488.1 534.8,481.5 528.2,474.9 527.1,471.6 524.9,465 528.2,458.4 529.3,449.6 527.5,439.2 530.8,431.7 535.8,423.3 542.5,415 547.5,411.7 552.5,406.7"/>
<polygon fill="#e2d595" points="577.5,386.7 586.7,380.8 603.3,379.2 610,380.8 608.3,391.7 615,403.3 615.8,420 620,426.7 622.9,431.9 598.7,448.5 594.3,446.3 562.4,426.4 555.8,417.5 555.8,410.8 566.7,406.7 573.3,400.8 580,396.7"/>
<polygon fill="#e1e1e1" points="542.5,415 555,415 555,422.5 544.2,422.5 544.2,432.5 540.8,432.5 540,440 527.5,439.2 530.8,431.7 535.8,423.3"/>
<polygon fill="#e1e1e1" points="615.75,399.25 631.5,394.75 645,401.5 654,397 665.25,401.5 667.5,444.25 658.5,444.25 636,433 622.5,433 615.75,419.5"/>
<polygon fill="#f0a766" points="636,433 658.5,444.25 665.25,446.5 663,464.5 658.5,475.75 656.25,487 638.25,491.5 631.5,482.5 633.75,469 631.5,455.5 636,444.25"/>
<polygon fill="#e1e1e1" points="667.5,484.75 681,482.5 694.5,475.75 696.75,484.75 703.5,500.5 694.5,507.25 683.25,505 672,496"/>
<polygon fill="#f0a766" points="534.8,481.5 541.4,476 551.3,476 555.7,481.5 556.9,491.4 554.6,493.6 548,488.1 543.6,484.8 539.2,487"/>
<polygon fill="#e1e1e1" points="528.2,474.9 537,474.9 533.7,479.3 530.4,479.3"/>
<polygon fill="#f0a766" points="587.7,479.3 592.1,476 596.5,479.3 594.3,488.1 593.2,498 589.9,498 588.8,483.7"/>
<polygon fill="#e1e1e1" points="615.75,514 622.5,514 622.5,517 615.75,517"/>
<polygon fill="#f0a766" points="647.5,504.4 663.2,504.4 677.2,502.7 687.6,506.2 687.6,523.6 684.2,532.3 687.6,555 680.7,556.7 682.4,570.7 672,567.2 665,565.4 658,553.2 651,549.7 642.3,551.5 638.8,544.5 626.6,544.5 624.9,541 631.8,535.8 637.1,532.3 644.1,520.1"/>
<polygon fill="#f0a766" points="624.9,544.5 638.8,544.5 642.3,551.5 651,549.7 658,553.2 659.7,565.4 665,567.2 658,572.4 658,588.1 624.9,588.1 624,584.6 628.4,567.2 628.4,553.2"/>
<polygon fill="#f0a766" points="633.6,480 656.3,480 652.8,487 640.6,492.2 635.3,487"/>
<polygon fill="#92d1bb" points="637.1,630 647.5,633.4 651,619.5 659.7,623 670.2,617.8 684.2,609 689.4,609 692.9,624.7 691.1,626.5 682.4,640.4 672,649.1 659.7,652.6 645.8,656.1 642.3,652.6 642.3,636.9"/>
<polygon fill="#ef6a50" points="673.7,633.4 678.9,635.2 675.4,640.4 672,638"/>
<polygon fill="#ef6a50" points="685,623 688.5,622.1 689.4,626.5 685.9,627.3"/>
<polygon fill="#e1e1e1" points="685.9,579.4 694.6,577.6 701.6,574.2 701.6,567.2 719,563.7 721.6,577.6 719,584.6 703.3,595.1 699.9,605.6 701.6,614.3 694.6,619.5 691.1,609 694.6,591.6 691.1,584.6"/>
<polygon fill="#f8f8f8" points="692.9,523.6 698.1,521.9 699.9,528.8 692.9,530.6"/>
<polygon fill="#e1e1e1" points="726,475.75 730.5,476.9 729,479 726,478"/>
<polygon fill="#ef6a50" points="729.5,609 733,588.1 740,581.1 750.4,568.9 753.9,581.1 750.4,593.3 743.4,617.8 734.7,621.2"/>
</g><g fill="none" stroke="#333" stroke-width="0.65" stroke-linejoin="round">
<polyline points="236,260 202,291.5"/>
<polyline points="216.7,333.5 290,334 301.7,332.8 311,336.9"/>
<polyline points="339,355 348.3,353.8 360,349.2 369.3,343.3 378.7,341 379.8,346.8 381,353"/>
<polyline points="204.7,396.4 211.7,396.4 221,401 235,400.5 239.7,402.8 244.3,409.8 250.2,407.5 254.8,413.3 260.7,422.7"/>
<polyline points="272.3,464.7 275,458 279.3,455.3 280.5,452 286,452 286.3,446"/>
<polyline points="279,464 283,460 288,457.5"/>
<polyline points="281.7,470.5 284,466 288.7,467"/>
<polyline points="355,514.2 363.7,506.7 372.3,505.6 377.7,502.3"/>
<polyline points="379.9,490.4 376.7,495.8 377.7,502.3 379.9,506.7 379.9,512.1"/>
<polyline points="388.6,500.2 386.4,506.7 387.5,514.2"/>
<polyline points="379.9,512.1 387.5,514.2 398.3,513.2"/>
<polyline points="395,640 405,635 411.2,651"/>
<polyline points="667.2,437.5 706.5,437.5"/>
<polyline points="699,464.5 705.75,471.25 701.25,487 696.75,484.75"/>
<polyline points="735,496 721.5,498.25 708,505 694.5,507.25"/>
<polyline points="708,455.5 721.5,466.75"/>
<polyline points="708,505 726,509.5 721.5,527.5 712.5,541"/>
<polyline points="636,491.5 647.25,505"/>
<polyline points="615.75,514 627,516.25 631.5,527.5 627,538.75"/>
<polyline points="651,619.5 654.5,593.3 658,588.1"/>
<polyline points="670.2,617.8 677.2,605.5 670.2,593.3 661.5,591.6"/>
<polyline points="661.5,591.6 673.7,588.1 684.2,582.9"/>
<polyline points="680.7,556.7 694.6,558.5 701.6,567.2"/>
<polyline points="701.6,528.8 719,541"/>
<polyline points="687.6,506.2 701.6,502.7"/>
<polyline points="689.4,523.6 698.1,521.9"/>
<polyline points="696.75,484.75 703.5,500.5"/>
<polyline points="622.5,433 636,433"/>
<polyline points="636.7,262.5 643.3,266.7 645,272.5 647,274"/>
<polyline points="655,262.5 656.7,266.7 661.7,275 667.5,283.3 660.8,291.7 661.7,293.3"/>
<polyline points="660,295.8 662.5,301 662.5,307.5"/>
<polyline points="648.3,301.7 659.2,301.7"/>
<polyline points="641.7,314.2 647.5,314.2"/>
<polyline points="701.7,380.3 719.6,379.1 726.8,375.5"/>
<polyline points="717.2,379.1 716,389.8 710.1,394.6 699.4,397"/>
<polyline points="699.4,408.9 707.7,401.7 710.1,398.2 729.2,408.9 737.5,408.9 742.3,410.1"/>
<polyline points="729.2,455.4 743.5,455.4 759,449.4 768.5,443.5 769.7,433.9"/>
<polyline points="759,449.4 762.6,457.8"/>
<polyline points="768.5,435.1 773,434"/>
<polyline points="784,408 793,405 805,396 811,390 814,381 823,378"/>
<polyline points="823,388.5 827.5,397.5 820,405 815.5,417 814,426"/>
<polyline points="876.7,419.2 882.9,427.5 885,435.8"/>
<polyline points="889.2,429.6 893.3,442"/>
<polyline points="893.3,419.2 903.75,415"/>
<polyline points="911.2,446.8 917.4,451.5 915.9,465.5 919,478 919.8,487.3"/>
<polyline points="920.5,443.7 926.8,451.5 934.6,454.6 939.3,462.4 940.8,467.1"/>
<polyline points="925.2,437.4 934.6,449.9 942.4,459.3 947.1,468.6 945.5,478"/>
<polyline points="931.5,468.6 942.4,467.1 947.1,473.3 943.9,479.5 937.7,479.5 933,473.3"/>
<polyline points="926.8,496.7 931.5,499.8"/>
<polyline points="982.5,374 988.5,373"/>
<polyline points="957.3,517.5 972.5,513.2 976.8,506.7 985.5,504.5"/>
<polyline points="1064.6,532.7 1063.5,556.5"/>
<polyline points="757,360 764.5,357 778,363 788.5,370.5 796,375 799,376.5"/>
<polyline points="781,387 793,379.5 799,376.5"/>
<polyline points="805,360 817,355.5 832,358.5"/>
<polyline points="824.5,364.5 814,367.5 803.5,367.5 799,364.5"/>
<polyline points="843.3,333.3 853.3,343.3 870,348.3 883.3,356.7 910,360 925,356.7 926.7,348.3 945,341.7 940,336.7 931.7,333.3 930,330"/>
<polyline points="848.5,406.5 847,412.5 874,420"/>
<polyline points="524.9,465 531.5,458.4 537,459.5 543.6,465 544.7,473.8 528.2,472.7"/>
<polyline points="562.4,426.4 565.7,460.6 543.6,463.9"/>
<polyline points="598.7,448.5 597.6,459.5 584.4,465 576.7,468.3 567.9,474.9 565.7,482.6 556.9,482.6 555.7,477.1 544.7,473.8"/>
<polyline points="635,470.5 629.5,470.5 616.3,470.5 600.9,469.4 595.4,476 586.6,466.1 584.4,465"/>
<polyline points="565.7,482.6 567.9,483.7 574.5,480.4 584.4,479.3 594.3,479.3 595.4,477.1"/>
<polyline points="548,488.1 546,495"/>
<polyline points="556.9,491.4 557.9,504.6"/>
<polyline points="574.5,480.4 572.3,494.7 574.5,503.5"/>
<polyline points="584.4,479.3 585.5,499.1"/>
<polyline points="596.5,479.3 600.9,469.4"/>
<polyline points="633.9,474.9 628.4,483.7 622.9,496.9 614.1,500.2"/>
<polyline points="530,466 538,466.5"/>
</g><g fill="none" stroke="#f8f8f8" stroke-width="1.3">
<polyline points="683.5,531 685,540 687.5,548 689.4,555"/>
<polyline points="699,560 700.5,567 701.6,577.6"/>
</g></svg>
<div class="t t1" style="position:absolute;left:191px;top:28.84px;font-size:25px;line-height:25px;font-weight:normal;color:#222;-webkit-text-stroke:0.55px #222;letter-spacing:0.257px;white-space:nowrap;">How much financial assistance is available per month to low-income families with</div>
<div class="t t2" style="position:absolute;left:191px;top:64.84px;font-size:25px;line-height:25px;font-weight:normal;color:#222;-webkit-text-stroke:0.55px #222;letter-spacing:0.369px;white-space:nowrap;">two teenage children?</div>
<div class="t l1" style="position:absolute;left:74px;top:821.07px;font-size:20px;line-height:20px;font-weight:normal;color:#222;letter-spacing:0.420px;white-space:nowrap;">No known family benefits</div>
<div class="t l2" style="position:absolute;left:364px;top:821.07px;font-size:20px;line-height:20px;font-weight:normal;color:#222;letter-spacing:-0.421px;white-space:nowrap;">Less than $20 PPP</div>
<div class="t l3" style="position:absolute;left:649px;top:821.07px;font-size:20px;line-height:20px;font-weight:normal;color:#222;letter-spacing:-0.526px;white-space:nowrap;">$20 - $59.99 PPP</div>
<div class="t l4" style="position:absolute;left:73px;top:873.07px;font-size:20px;line-height:20px;font-weight:normal;color:#222;letter-spacing:-0.532px;white-space:nowrap;">$60 - $149.99 PPP</div>
<div class="t l5" style="position:absolute;left:358px;top:873.07px;font-size:20px;line-height:20px;font-weight:normal;color:#222;letter-spacing:-0.379px;white-space:nowrap;">$150 PPP or more</div>
<div class="t n1" style="position:absolute;left:29.5px;top:953.76px;font-size:16px;line-height:16px;font-weight:normal;color:#222;letter-spacing:0.060px;white-space:nowrap;">Map reflects laws and policies in place as of March 2012.</div>
<div class="t n2" style="position:absolute;left:29.5px;top:987.26px;font-size:16px;line-height:16px;font-weight:normal;color:#222;letter-spacing:0.216px;white-space:nowrap;">Consistent with WORLD’s commitment to advancing universal coverage, this analysis captures the minimum guaranteed level of policy-based protection</div>
<div class="t n3" style="position:absolute;left:29.5px;top:1010.96px;font-size:16px;line-height:16px;font-weight:normal;color:#222;letter-spacing:0.408px;white-space:nowrap;">available and does not include protections that are available in some localities, but not nationally.</div>
<div class="t b1" style="position:absolute;left:687px;top:1069.76px;font-size:16px;line-height:16px;font-weight:normal;color:#333;letter-spacing:1.119px;white-space:nowrap;">www.worldpolicycenter.org © WORLD Policy Analysis Center</div>
<div class="sq" style="left:35px;top:819px;background:#ef6a50"></div><div class="sq" style="left:326px;top:819px;background:#f0a766"></div><div class="sq" style="left:611px;top:819px;background:#e2d595"></div><div class="sq" style="left:35px;top:871px;background:#92d1bb"></div><div class="sq" style="left:320px;top:871px;background:#3e7f69"></div>
<svg style="position:absolute;left:0;top:0" width="160" height="100">
<text x="60.5" y="46.5" font-family="Liberation Sans" font-weight="bold" font-size="21" fill="#273f56" textLength="79.5" lengthAdjust="spacingAndGlyphs">WORLD</text>
<g fill="#8497a4">
<path d="M61,56.5 L66,54 L72,53.5 L80,52.5 L84,55 L86,60 L84,66 L80,70 L76,69 L72,64 L68,60 L62,58.5 Z"/>
<path d="M82,52 L88,51 L94,53 L88,55 Z"/>
<path d="M79,71 L85,73 L86,79 L84,86 L82,89 L80,82 L79,76 Z"/>
<path d="M104,54 L112,55 L120,53 L130,54 L139,56.5 L137,60 L131,64 L126,71 L120,72 L116,66 L110,63 L104,60 Z"/>
<path d="M123,79 L130,77.5 L134,82 L128,84.5 L123,83 Z"/>
<path d="M95,60 L106,60 L108,70 L103,80 L98,76 Z"/>
<path d="M133,61 L135,62 L133,66 Z"/><path d="M122,73 L127,74 L125,76 Z"/>
</g>
<g fill="#5d6d79">
<circle cx="96" cy="55.5" r="2"/><rect x="93.5" y="57.5" width="5" height="12" rx="2"/>
<circle cx="105.5" cy="55.5" r="2"/><rect x="103" y="57.5" width="5.5" height="20" rx="2"/>
<circle cx="111.5" cy="55.5" r="2.2"/><rect x="108.5" y="58" width="6.5" height="24" rx="2.5"/>
</g>
<g fill="#2c4256">
<circle cx="87" cy="58" r="2.3"/><path d="M83.5,61 Q87,59.5 90.5,61 L91,75 L89.5,86 L87.5,86 L86.5,76 L85,86 L83.2,86 L83,72 L82,70 Z"/>
<circle cx="93.5" cy="58.5" r="2.1"/><path d="M90.5,61.5 L96.5,61.5 L97,74 L96,85 L94,85 L93.5,76 L92.5,85 L90.5,85 Z"/>
<circle cx="101.5" cy="58" r="2.3"/><path d="M98,61 L105,61 L106,72 L104.5,86 L102,86 L101.5,78 L100.5,86 L98,86 L97.5,72 Z"/>
<circle cx="109" cy="63" r="2.1"/><path d="M106,66 L112,66 L112.5,76 L111,85 L109,85 L108.5,78 L107.5,85 L105.5,85 L105.5,75 Z"/>
</g>
</svg>
</body></html>
